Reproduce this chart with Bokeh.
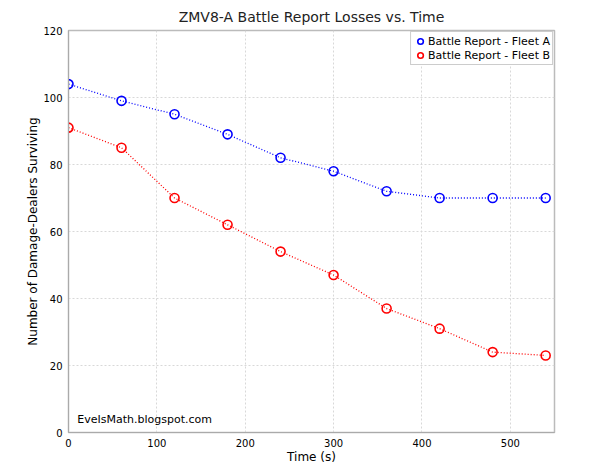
from bokeh.plotting import figure
from bokeh.models import Legend, LegendItem, Label, Range1d, FixedTicker
from bokeh.embed import file_html
from bokeh.resources import INLINE

time_s = [0, 60, 120, 180, 240, 300, 360, 420, 480, 540]
fleet_a = [104, 99, 95, 89, 82, 78, 72, 70, 70, 70]
fleet_b = [91, 85, 70, 62, 54, 47, 37, 31, 24, 23]
x_ticks = [0, 100, 200, 300, 400, 500]
y_ticks = [0, 20, 40, 60, 80, 100, 120]

FONT = "DejaVu Sans"

p = figure(width=592, height=467, output_backend="svg", toolbar_location=None,
           x_range=Range1d(0, 550), y_range=Range1d(0, 120),
           min_border_left=68, min_border_right=38, min_border_top=30, min_border_bottom=35,
           title="ZMV8-A Battle Report Losses vs. Time")
p.title.align = "center"
p.title.text_font = FONT
p.title.text_font_size = "14px"
p.title.text_font_style = "normal"
p.title.text_color = "#222222"
p.title.standoff = 12

p.outline_line_color = "#bbbbbb"
p.outline_line_width = 1.5

for ax in (p.xaxis[0], p.yaxis[0]):
    ax.axis_line_color = "#aaaaaa"
    ax.major_tick_in = 0
    ax.major_tick_out = 0
    ax.minor_tick_in = 0
    ax.minor_tick_out = 0
    ax.major_label_text_font = FONT
    ax.major_label_text_font_size = "10px"
    ax.major_label_text_color = "black"
    ax.axis_label_text_font = FONT
    ax.axis_label_text_font_size = "12px"
    ax.axis_label_text_font_style = "normal"
    ax.axis_label_text_color = "black"

p.xaxis.ticker = FixedTicker(ticks=x_ticks)
p.yaxis.ticker = FixedTicker(ticks=y_ticks)
p.xaxis.axis_label = "Time (s)"
p.yaxis.axis_label = "Number of Damage-Dealers Surviving"
p.xaxis.axis_label_standoff = 0
p.yaxis.axis_label_standoff = 0
p.xaxis.major_label_standoff = 6
p.yaxis.major_label_standoff = 6

p.grid.grid_line_color = "#d8d8d8"
p.grid.grid_line_dash = "2 2"

p.line(time_s, fleet_a, line_color="#0000ff", line_dash="1 2", line_width=1.3)
ca = p.scatter(time_s, fleet_a, marker="circle", size=9, fill_color=None,
               line_color="#0000ff", line_width=1.6)
p.line(time_s, fleet_b, line_color="#ff0000", line_dash="1 2", line_width=1.3)
cb = p.scatter(time_s, fleet_b, marker="circle", size=9, fill_color=None,
               line_color="#ff0000", line_width=1.6)

legend = Legend(items=[LegendItem(label="Battle Report - Fleet A", renderers=[ca]),
                       LegendItem(label="Battle Report - Fleet B", renderers=[cb])],
                location="top_right")
legend.label_text_font = FONT
legend.label_text_font_size = "11px"
legend.label_text_color = "black"
legend.label_standoff = 1
legend.glyph_width = 14
legend.glyph_height = 14
legend.spacing = 0
legend.padding = 2
legend.margin = 1
legend.border_line_color = "#999999"
legend.background_fill_alpha = 1.0
legend.label_height = 13
p.add_layout(legend)

lbl = Label(x=10, y=2, text="EveIsMath.blogspot.com", text_font=FONT,
            text_font_size="11px", text_baseline="bottom", text_color="black")
p.add_layout(lbl)

open("out.html", "w").write(file_html(p, INLINE))
